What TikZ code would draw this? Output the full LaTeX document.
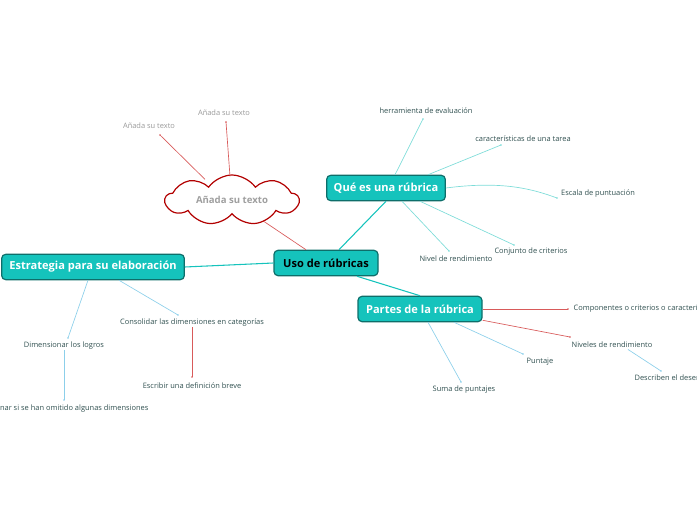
\documentclass[tikz,border=0pt]{standalone}
\usepackage{fontspec}
\setmainfont{Open Sans}
\usetikzlibrary{shapes.symbols}
\definecolor{teal1}{HTML}{15C3BC}
\definecolor{tealdark}{HTML}{0E6E6A}
\definecolor{leafc}{HTML}{7DDCD8}
\definecolor{blue1}{HTML}{8CCFEA}
\definecolor{red1}{HTML}{D85A5A}
\definecolor{txt}{HTML}{2F4F4F}
\tikzset{
  mainbox/.style={draw=tealdark,fill=teal1,rounded corners=3pt,line width=0.9pt,font=\fontsize{8.3}{10}\selectfont\bfseries,text=white,minimum height=19pt,inner xsep=0pt},
  leaf/.style={font=\fontsize{5.6}{7}\selectfont,text=txt,inner sep=1pt},
  gleaf/.style={font=\fontsize{5.6}{7}\selectfont,text=gray!80,inner sep=1pt},
  tl/.style={draw=teal1,line width=0.8pt},
  ll/.style={draw=leafc,line width=0.5pt},
  bl/.style={draw=blue1,line width=0.5pt},
  rl/.style={draw=red1,line width=0.5pt},
  dot/.style={circle,fill,inner sep=0.5pt}
}
\begin{document}
\begin{tikzpicture}[x=0.75pt,y=-0.75pt]
\useasboundingbox (0,0) rectangle (697,520);
% main nodes
\node[mainbox,text=black,minimum width=78pt] (uso) at (326,263) {Uso de rúbricas};
\node[mainbox,minimum width=89pt] (que) at (386,188) {Qué es una rúbrica};
\node[mainbox,minimum width=93pt] (partes) at (420,309) {Partes de la rúbrica};
\node[mainbox,minimum width=137pt] (estr) at (93,267) {Estrategia para su elaboración};
\node[cloud,draw=red!70!black,line width=0.9pt,fill=white,cloud puffs=9,cloud puff arc=110,aspect=3,inner sep=0pt,minimum width=100pt,minimum height=33pt,font=\fontsize{7.2}{9}\selectfont\bfseries,text=gray!75] (cloud) at (232,200) {Añada su texto};
% leaves
\node[leaf] (herr) at (426,111) {herramienta de evaluación};
\node[leaf] (car) at (523,139) {características de una tarea};
\node[leaf] (esc) at (598,194) {Escala de puntuación};
\node[leaf] (conj) at (531,252) {Conjunto de criterios};
\node[leaf] (niv) at (456,259) {Nivel de rendimiento};
\node[gleaf] (a1) at (149,126) {Añada su texto};
\node[gleaf] (a2) at (224,113) {Añada su texto};
\node[leaf,anchor=west] (comp) at (572,309) {Componentes o criterios o características};
\node[leaf] (nivs) at (612,345) {Niveles de rendimiento};
\node[leaf,anchor=west] (desc) at (633,379) {Describen el desempeño};
\node[leaf] (punt) at (540,362) {Puntaje};
\node[leaf] (suma) at (464,390) {Suma de puntajes};
\node[leaf] (cons) at (192,323) {Consolidar las dimensiones en categorías};
\node[leaf] (dim) at (64,346) {Dimensionar los logros};
\node[leaf] (escr) at (192,386) {Escribir una definición breve};
\node[leaf,anchor=east] (det) at (150,409) {Determinar si se han omitido algunas dimensiones};
% endpoint coordinates
\coordinate (cHerr) at (423,119); \coordinate (cCar) at (501,145);
\coordinate (cEsc) at (557,198); \coordinate (cConj) at (514,245);
\coordinate (cNiv) at (449,251); \coordinate (cA1) at (160,135);
\coordinate (cA2) at (226,122); \coordinate (cComp) at (568,309);
\coordinate (cNivs) at (570,337); \coordinate (cDesc) at (661,371);
\coordinate (cPunt) at (523,354); \coordinate (cSuma) at (461,382);
\coordinate (cCons) at (178,315); \coordinate (cDim) at (68,338);
\coordinate (cEscr) at (192,377); \coordinate (cDet) at (64,400);
% main connectors
\draw[tl] (uso.north) ++(13,0) -- (que.south);
\draw[tl] (uso.south) ++(31,0) -- (partes.north);
\draw[tl] (uso.west) -- (estr.east);
\draw[rl] (uso.north) ++(-20,0) -- (cloud);
% que leaves
\draw[ll] (que.north) ++(9,0) -- (cHerr);
\draw[ll] (que.north) ++(42,0) -- (cCar);
\draw[ll] (que.east) .. controls (500,181) and (530,188) .. (cEsc);
\draw[ll] (que.south) ++(34,0) -- (cConj);
\draw[ll] (que.south) ++(16,0) -- (cNiv);
\draw[rl] (cloud.north) ++(-27,5) -- (cA1);
\draw[rl] (cloud.north) ++(-2,2) -- (cA2);
% partes leaves
\draw[rl] (partes.east) -- (cComp);
\draw[rl] (partes.south east) ++(0,-2) -- (cNivs);
\draw[bl] (partes.south) ++(34,0) -- (cPunt);
\draw[bl] (partes.south) ++(8,0) -- (cSuma);
\draw[bl] (nivs.south) ++(16,0) -- (cDesc);
% estrategia leaves
\draw[bl] (estr.south) ++(-5,0) -- (cDim);
\draw[bl] (estr.south) ++(26,0) -- (cCons);
\draw[rl] (cons.south) ++(0,-1) -- (cEscr);
\draw[bl] (dim.south) ++(0,-1) -- (cDet);
\foreach \c/\col in {cHerr/leafc,cCar/leafc,cEsc/leafc,cConj/leafc,cNiv/leafc,cA1/red1,cA2/red1,cComp/red1,cNivs/red1,cDesc/blue1,cPunt/blue1,cSuma/blue1,cCons/blue1,cDim/blue1,cEscr/red1,cDet/blue1}
  \node[dot,fill=\col] at (\c) {};
\end{tikzpicture}
\end{document}
